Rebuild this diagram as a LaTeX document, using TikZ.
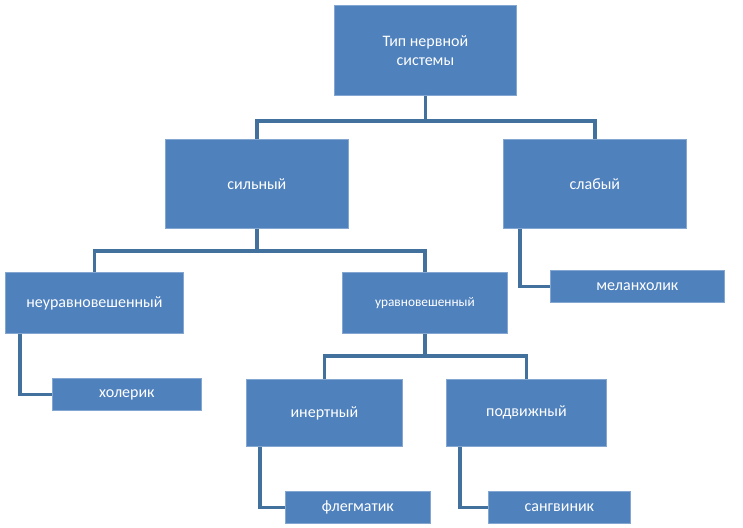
\documentclass[tikz,border=0pt]{standalone}
\usepackage{fontspec}
\setmainfont{Carlito}
\definecolor{bx}{HTML}{4F81BD}
\definecolor{ln}{HTML}{41719C}
\begin{document}
\begin{tikzpicture}[x=0.75pt,y=-0.75pt,
  box/.style={fill=bx,draw=bx!70!white,line width=0.6pt,text=white,font=\fontsize{12}{14}\selectfont,align=center,inner sep=0pt,anchor=north west},
  conn/.style={draw=ln,line width=2.6pt}]
\useasboundingbox (0,0) rectangle (743,528);
\newcommand{\bx}[6]{\node[box,minimum width=#4*0.75pt,minimum height=#5*0.75pt] (#1) at (#2,#3) {#6};}
\bx{top}{334}{5}{182}{90}{Тип нервной\\системы}
\bx{s}{165}{139}{183}{89}{сильный}
\bx{w}{503}{139}{183}{89}{слабый}
\bx{n}{5}{272}{178}{61}{неуравновешенный}
\bx{u}{342}{272}{165}{61}{\fontsize{10}{12}\selectfont уравновешенный}
\bx{h}{52}{378}{149}{32}{холерик}
\bx{m}{550}{270}{174}{32}{меланхолик}
\bx{i}{246}{379}{156}{67}{инертный}
\bx{p}{446}{379}{160}{67}{подвижный}
\bx{f}{285}{491}{145}{32}{флегматик}
\bx{g}{488}{491}{142}{32}{сангвиник}
\draw[conn] (top.south) -- ++(0,25) -| (s.north);
\draw[conn] (top.south) -- ++(0,25) -| (w.north);
\draw[conn] (s.south) -- ++(0,22) -| (n.north);
\draw[conn] (s.south) -- ++(0,22) -| (u.north);
\draw[conn] (u.south) -- ++(0,22) -| (i.north);
\draw[conn] (u.south) -- ++(0,22) -| (p.north);
\draw[conn] (w.south west) ++(17,0) |- (m.west);
\draw[conn] (n.south west) ++(15,0) |- (h.west);
\draw[conn] (i.south west) ++(14,0) |- (f.west);
\draw[conn] (p.south west) ++(14,0) |- (g.west);
\end{tikzpicture}
\end{document}
